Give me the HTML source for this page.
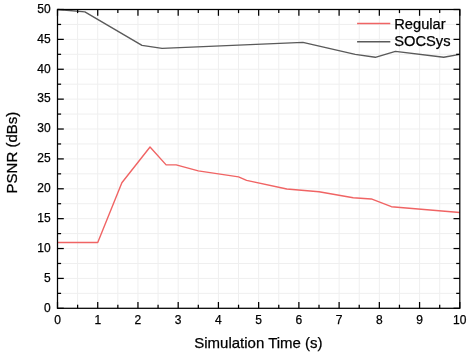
<!DOCTYPE html><html><head><meta charset="utf-8"><style>
html,body{margin:0;padding:0;background:#fff;width:471px;height:356px;overflow:hidden}
svg{display:block}
text{font-family:"Liberation Sans",Arial,sans-serif;fill:#000;stroke:#000;stroke-width:0.25px}
</style></head><body>
<svg width="471" height="356" viewBox="0 0 471 356">
<g stroke="#efefef" stroke-width="1"><line x1="77.62" y1="9.50" x2="77.62" y2="308.30"/><line x1="97.73" y1="9.50" x2="97.73" y2="308.30"/><line x1="117.84" y1="9.50" x2="117.84" y2="308.30"/><line x1="137.96" y1="9.50" x2="137.96" y2="308.30"/><line x1="158.07" y1="9.50" x2="158.07" y2="308.30"/><line x1="178.19" y1="9.50" x2="178.19" y2="308.30"/><line x1="198.31" y1="9.50" x2="198.31" y2="308.30"/><line x1="218.42" y1="9.50" x2="218.42" y2="308.30"/><line x1="238.54" y1="9.50" x2="238.54" y2="308.30"/><line x1="258.65" y1="9.50" x2="258.65" y2="308.30"/><line x1="278.76" y1="9.50" x2="278.76" y2="308.30"/><line x1="298.88" y1="9.50" x2="298.88" y2="308.30"/><line x1="319.00" y1="9.50" x2="319.00" y2="308.30"/><line x1="339.11" y1="9.50" x2="339.11" y2="308.30"/><line x1="359.23" y1="9.50" x2="359.23" y2="308.30"/><line x1="379.34" y1="9.50" x2="379.34" y2="308.30"/><line x1="399.46" y1="9.50" x2="399.46" y2="308.30"/><line x1="419.57" y1="9.50" x2="419.57" y2="308.30"/><line x1="439.69" y1="9.50" x2="439.69" y2="308.30"/><line x1="57.50" y1="293.36" x2="459.80" y2="293.36"/><line x1="57.50" y1="278.42" x2="459.80" y2="278.42"/><line x1="57.50" y1="263.48" x2="459.80" y2="263.48"/><line x1="57.50" y1="248.54" x2="459.80" y2="248.54"/><line x1="57.50" y1="233.60" x2="459.80" y2="233.60"/><line x1="57.50" y1="218.66" x2="459.80" y2="218.66"/><line x1="57.50" y1="203.72" x2="459.80" y2="203.72"/><line x1="57.50" y1="188.78" x2="459.80" y2="188.78"/><line x1="57.50" y1="173.84" x2="459.80" y2="173.84"/><line x1="57.50" y1="158.90" x2="459.80" y2="158.90"/><line x1="57.50" y1="143.96" x2="459.80" y2="143.96"/><line x1="57.50" y1="129.02" x2="459.80" y2="129.02"/><line x1="57.50" y1="114.08" x2="459.80" y2="114.08"/><line x1="57.50" y1="99.14" x2="459.80" y2="99.14"/><line x1="57.50" y1="84.20" x2="459.80" y2="84.20"/><line x1="57.50" y1="69.26" x2="459.80" y2="69.26"/><line x1="57.50" y1="54.32" x2="459.80" y2="54.32"/><line x1="57.50" y1="39.38" x2="459.80" y2="39.38"/><line x1="57.50" y1="24.44" x2="459.80" y2="24.44"/></g>
<polyline points="57.50,242.56 97.73,242.56 121.87,182.80 150.03,146.95 166.12,164.88 176.18,164.88 198.31,170.85 238.54,176.83 246.58,180.41 286.81,189.02 319.00,191.77 353.19,197.74 371.29,198.94 391.41,206.71 459.80,212.50" fill="none" stroke="#f06464" stroke-width="1.4" stroke-linejoin="round"/>
<polyline points="57.50,9.50 84.86,11.89 141.98,45.36 162.10,48.34 302.90,42.37 355.20,54.32 375.32,57.31 395.43,51.33 443.71,57.31 459.80,54.32" fill="none" stroke="#5a5a5a" stroke-width="1.4" stroke-linejoin="round"/>
<g stroke="#000" stroke-width="1.25"><line x1="57.50" y1="308.30" x2="57.50" y2="302.00"/><line x1="57.50" y1="9.50" x2="57.50" y2="15.80"/><line x1="77.62" y1="308.30" x2="77.62" y2="304.70"/><line x1="77.62" y1="9.50" x2="77.62" y2="13.10"/><line x1="97.73" y1="308.30" x2="97.73" y2="302.00"/><line x1="97.73" y1="9.50" x2="97.73" y2="15.80"/><line x1="117.84" y1="308.30" x2="117.84" y2="304.70"/><line x1="117.84" y1="9.50" x2="117.84" y2="13.10"/><line x1="137.96" y1="308.30" x2="137.96" y2="302.00"/><line x1="137.96" y1="9.50" x2="137.96" y2="15.80"/><line x1="158.07" y1="308.30" x2="158.07" y2="304.70"/><line x1="158.07" y1="9.50" x2="158.07" y2="13.10"/><line x1="178.19" y1="308.30" x2="178.19" y2="302.00"/><line x1="178.19" y1="9.50" x2="178.19" y2="15.80"/><line x1="198.31" y1="308.30" x2="198.31" y2="304.70"/><line x1="198.31" y1="9.50" x2="198.31" y2="13.10"/><line x1="218.42" y1="308.30" x2="218.42" y2="302.00"/><line x1="218.42" y1="9.50" x2="218.42" y2="15.80"/><line x1="238.54" y1="308.30" x2="238.54" y2="304.70"/><line x1="238.54" y1="9.50" x2="238.54" y2="13.10"/><line x1="258.65" y1="308.30" x2="258.65" y2="302.00"/><line x1="258.65" y1="9.50" x2="258.65" y2="15.80"/><line x1="278.76" y1="308.30" x2="278.76" y2="304.70"/><line x1="278.76" y1="9.50" x2="278.76" y2="13.10"/><line x1="298.88" y1="308.30" x2="298.88" y2="302.00"/><line x1="298.88" y1="9.50" x2="298.88" y2="15.80"/><line x1="319.00" y1="308.30" x2="319.00" y2="304.70"/><line x1="319.00" y1="9.50" x2="319.00" y2="13.10"/><line x1="339.11" y1="308.30" x2="339.11" y2="302.00"/><line x1="339.11" y1="9.50" x2="339.11" y2="15.80"/><line x1="359.23" y1="308.30" x2="359.23" y2="304.70"/><line x1="359.23" y1="9.50" x2="359.23" y2="13.10"/><line x1="379.34" y1="308.30" x2="379.34" y2="302.00"/><line x1="379.34" y1="9.50" x2="379.34" y2="15.80"/><line x1="399.46" y1="308.30" x2="399.46" y2="304.70"/><line x1="399.46" y1="9.50" x2="399.46" y2="13.10"/><line x1="419.57" y1="308.30" x2="419.57" y2="302.00"/><line x1="419.57" y1="9.50" x2="419.57" y2="15.80"/><line x1="439.69" y1="308.30" x2="439.69" y2="304.70"/><line x1="439.69" y1="9.50" x2="439.69" y2="13.10"/><line x1="459.80" y1="308.30" x2="459.80" y2="302.00"/><line x1="459.80" y1="9.50" x2="459.80" y2="15.80"/><line x1="57.50" y1="308.30" x2="63.80" y2="308.30"/><line x1="459.80" y1="308.30" x2="453.50" y2="308.30"/><line x1="57.50" y1="293.36" x2="61.10" y2="293.36"/><line x1="459.80" y1="293.36" x2="456.20" y2="293.36"/><line x1="57.50" y1="278.42" x2="63.80" y2="278.42"/><line x1="459.80" y1="278.42" x2="453.50" y2="278.42"/><line x1="57.50" y1="263.48" x2="61.10" y2="263.48"/><line x1="459.80" y1="263.48" x2="456.20" y2="263.48"/><line x1="57.50" y1="248.54" x2="63.80" y2="248.54"/><line x1="459.80" y1="248.54" x2="453.50" y2="248.54"/><line x1="57.50" y1="233.60" x2="61.10" y2="233.60"/><line x1="459.80" y1="233.60" x2="456.20" y2="233.60"/><line x1="57.50" y1="218.66" x2="63.80" y2="218.66"/><line x1="459.80" y1="218.66" x2="453.50" y2="218.66"/><line x1="57.50" y1="203.72" x2="61.10" y2="203.72"/><line x1="459.80" y1="203.72" x2="456.20" y2="203.72"/><line x1="57.50" y1="188.78" x2="63.80" y2="188.78"/><line x1="459.80" y1="188.78" x2="453.50" y2="188.78"/><line x1="57.50" y1="173.84" x2="61.10" y2="173.84"/><line x1="459.80" y1="173.84" x2="456.20" y2="173.84"/><line x1="57.50" y1="158.90" x2="63.80" y2="158.90"/><line x1="459.80" y1="158.90" x2="453.50" y2="158.90"/><line x1="57.50" y1="143.96" x2="61.10" y2="143.96"/><line x1="459.80" y1="143.96" x2="456.20" y2="143.96"/><line x1="57.50" y1="129.02" x2="63.80" y2="129.02"/><line x1="459.80" y1="129.02" x2="453.50" y2="129.02"/><line x1="57.50" y1="114.08" x2="61.10" y2="114.08"/><line x1="459.80" y1="114.08" x2="456.20" y2="114.08"/><line x1="57.50" y1="99.14" x2="63.80" y2="99.14"/><line x1="459.80" y1="99.14" x2="453.50" y2="99.14"/><line x1="57.50" y1="84.20" x2="61.10" y2="84.20"/><line x1="459.80" y1="84.20" x2="456.20" y2="84.20"/><line x1="57.50" y1="69.26" x2="63.80" y2="69.26"/><line x1="459.80" y1="69.26" x2="453.50" y2="69.26"/><line x1="57.50" y1="54.32" x2="61.10" y2="54.32"/><line x1="459.80" y1="54.32" x2="456.20" y2="54.32"/><line x1="57.50" y1="39.38" x2="63.80" y2="39.38"/><line x1="459.80" y1="39.38" x2="453.50" y2="39.38"/><line x1="57.50" y1="24.44" x2="61.10" y2="24.44"/><line x1="459.80" y1="24.44" x2="456.20" y2="24.44"/><line x1="57.50" y1="9.50" x2="63.80" y2="9.50"/><line x1="459.80" y1="9.50" x2="453.50" y2="9.50"/></g>
<rect x="57.50" y="9.50" width="402.30" height="298.80" fill="none" stroke="#000" stroke-width="1.25"/>
<line x1="357.1" y1="23.5" x2="390.3" y2="23.5" stroke="#f06464" stroke-width="1.4"/>
<line x1="357.1" y1="41.7" x2="390.3" y2="41.7" stroke="#5a5a5a" stroke-width="1.4"/>
<text x="394.2" y="28.8" font-size="14.7">Regular</text>
<text x="394.2" y="46.4" font-size="14.7">SOCSys</text>
<text x="50.6" y="311.60" font-size="12" text-anchor="end">0</text>
<text x="50.6" y="281.72" font-size="12" text-anchor="end">5</text>
<text x="50.6" y="251.84" font-size="12" text-anchor="end">10</text>
<text x="50.6" y="221.96" font-size="12" text-anchor="end">15</text>
<text x="50.6" y="192.08" font-size="12" text-anchor="end">20</text>
<text x="50.6" y="162.20" font-size="12" text-anchor="end">25</text>
<text x="50.6" y="132.32" font-size="12" text-anchor="end">30</text>
<text x="50.6" y="102.44" font-size="12" text-anchor="end">35</text>
<text x="50.6" y="72.56" font-size="12" text-anchor="end">40</text>
<text x="50.6" y="42.68" font-size="12" text-anchor="end">45</text>
<text x="50.6" y="12.80" font-size="12" text-anchor="end">50</text>
<text x="57.50" y="324.3" font-size="12" text-anchor="middle">0</text>
<text x="97.73" y="324.3" font-size="12" text-anchor="middle">1</text>
<text x="137.96" y="324.3" font-size="12" text-anchor="middle">2</text>
<text x="178.19" y="324.3" font-size="12" text-anchor="middle">3</text>
<text x="218.42" y="324.3" font-size="12" text-anchor="middle">4</text>
<text x="258.65" y="324.3" font-size="12" text-anchor="middle">5</text>
<text x="298.88" y="324.3" font-size="12" text-anchor="middle">6</text>
<text x="339.11" y="324.3" font-size="12" text-anchor="middle">7</text>
<text x="379.34" y="324.3" font-size="12" text-anchor="middle">8</text>
<text x="419.57" y="324.3" font-size="12" text-anchor="middle">9</text>
<text x="459.80" y="324.3" font-size="12" text-anchor="middle">10</text>
<text x="258.4" y="347.8" font-size="15" text-anchor="middle">Simulation Time (s)</text>
<text transform="translate(16.9,152.6) rotate(-90)" font-size="15" text-anchor="middle">PSNR (dBs)</text>
</svg></body></html>
